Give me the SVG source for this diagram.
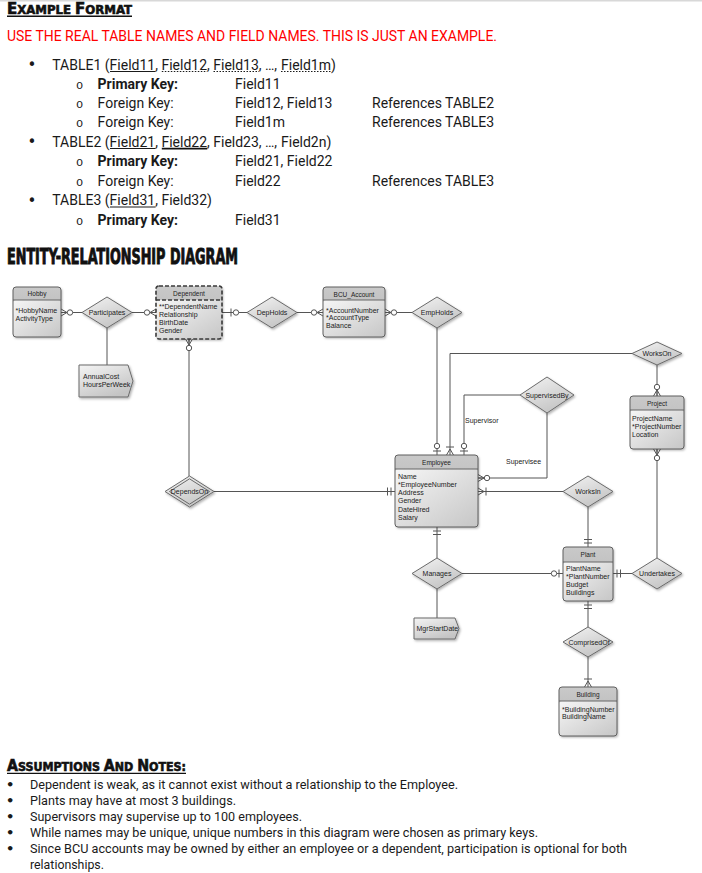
<svg xmlns="http://www.w3.org/2000/svg" width="702" height="873" viewBox="0 0 702 873">
<style>
.body{font-family:Roboto,"Liberation Sans",sans-serif;font-size:14px;fill:#1a1a1a}
.bold{font-weight:bold}
.red{fill:#ff0000}
.bul{font-family:"DejaVu Sans","Liberation Sans",sans-serif;font-size:15px;fill:#1a1a1a}
.bul2{font-family:"DejaVu Sans","Liberation Sans",sans-serif;font-size:13px;font-weight:bold;fill:#1a1a1a}
.head{font-family:"DejaVu Sans Condensed","DejaVu Sans","Liberation Sans",sans-serif;font-weight:bold;fill:#111;stroke:#111;stroke-width:0.6}
.note{font-family:Roboto,"Liberation Sans",sans-serif;font-size:13.5px;fill:#1a1a1a}
.ul{stroke:#1a1a1a;stroke-width:1}
.dul{stroke:#1a1a1a;stroke-width:1;stroke-dasharray:1.5,1.5}
.eh{fill:url(#hdrG)}
.eb{fill:url(#bodyG)}
.es{stroke:#666;stroke-width:1}
.eo{fill:none;stroke:#5f5f5f;stroke-width:1}
.ew{fill:none;stroke:#3a3a3a;stroke-width:1.6;stroke-dasharray:4,2}
.th{font-family:"Liberation Sans",Arial,sans-serif;font-size:6.5px;fill:#222;text-anchor:middle}
.ta{font-family:"Liberation Sans",Arial,sans-serif;font-size:7px;fill:#222}
.tr{font-family:"Liberation Sans",Arial,sans-serif;font-size:7px;fill:#222;text-anchor:middle}
.dm{fill:url(#dG);stroke:#6a6a6a;stroke-width:1}
.cn{fill:none;stroke:#555;stroke-width:1}
.nt{fill:none;stroke:#555;stroke-width:1}
.nc{fill:#fff;stroke:#555;stroke-width:1}
</style>
<defs>
<linearGradient id="bodyG" x1="0" y1="0" x2="1" y2="1">
<stop offset="0" stop-color="#f6f6f6"/><stop offset="1" stop-color="#c6c6c6"/>
</linearGradient>
<linearGradient id="hdrG" x1="0" y1="0" x2="0" y2="1">
<stop offset="0" stop-color="#c9c9c9"/><stop offset="1" stop-color="#b3b3b3"/>
</linearGradient>
<linearGradient id="dG" x1="0" y1="0" x2="0.6" y2="1">
<stop offset="0" stop-color="#f4f4f4"/><stop offset="1" stop-color="#c4c4c4"/>
</linearGradient>
<filter id="sh" x="-15%" y="-15%" width="140%" height="140%">
<feDropShadow dx="1.2" dy="1.5" stdDeviation="1" flood-color="#000" flood-opacity="0.3"/>
</filter>
<g id="crowO"><path class="nt" d="M0,-3.5 L6,0 M0,3.5 L6,0 M0,0 L6,0"/><circle class="nc" cx="9" cy="0" r="2.7"/></g>
<g id="crowBar"><path class="nt" d="M0,-3.5 L6,0 M0,3.5 L6,0 M8,-4 L8,4"/></g>
<g id="barO"><path class="nt" d="M4,-4 L4,4"/><circle class="nc" cx="9" cy="0" r="2.7"/></g>
<g id="barBar"><path class="nt" d="M4,-4 L4,4 M7.5,-4 L7.5,4"/></g>
</defs>

<rect x="0" y="0" width="702" height="873" fill="#fff"/>
<rect x="0" y="0" width="702" height="1.5" fill="#d8d8d8"/>

<!-- Example format heading -->
<text class="head" x="7" y="14" textLength="125" lengthAdjust="spacingAndGlyphs"><tspan font-size="16">E</tspan><tspan font-size="12.5">XAMPLE </tspan><tspan font-size="16">F</tspan><tspan font-size="12.5">ORMAT</tspan></text>
<line x1="7" y1="16.3" x2="132" y2="16.3" stroke="#111" stroke-width="1.4"/>
<text class="body red" x="7" y="40.7" textLength="490" lengthAdjust="spacingAndGlyphs">USE THE REAL TABLE NAMES AND FIELD NAMES. THIS IS JUST AN EXAMPLE.</text>

<g class="body">
<text class="bul" x="27.5" y="70">•</text>
<text x="52.3" y="69.5">TABLE1 (Field11, Field12, Field13, <tspan x="265">…, </tspan><tspan x="281">Field1m)</tspan></text>
<text class="bul" x="27.5" y="147">•</text>
<text x="52.3" y="146.5">TABLE2 (Field21, Field22, Field23, <tspan x="265">…, </tspan><tspan x="281">Field2n)</tspan></text>
<text class="bul" x="27.5" y="205.5">•</text>
<text x="52.3" y="205">TABLE3 (Field31, Field32)</text>

<text x="76" y="88.5" font-family="'Liberation Mono',monospace" font-size="12">o</text>
<text x="76" y="107.5" font-family="'Liberation Mono',monospace" font-size="12">o</text>
<text x="76" y="126.8" font-family="'Liberation Mono',monospace" font-size="12">o</text>
<text x="76" y="166" font-family="'Liberation Mono',monospace" font-size="12">o</text>
<text x="76" y="185.5" font-family="'Liberation Mono',monospace" font-size="12">o</text>
<text x="76" y="224.5" font-family="'Liberation Mono',monospace" font-size="12">o</text>

<text class="bold" x="97.6" y="88.5">Primary Key:</text>
<text x="97.6" y="107.5">Foreign Key:</text>
<text x="97.6" y="126.8">Foreign Key:</text>
<text class="bold" x="97.6" y="166">Primary Key:</text>
<text x="97.6" y="185.5">Foreign Key:</text>
<text class="bold" x="97.6" y="224.5">Primary Key:</text>

<text x="235" y="88.5">Field11</text>
<text x="235" y="107.5">Field12, Field13</text>
<text x="235" y="126.8">Field1m</text>
<text x="235" y="166">Field21, Field22</text>
<text x="235" y="185.5">Field22</text>
<text x="235" y="224.5">Field31</text>

<text x="372" y="107.5">References TABLE2</text>
<text x="372" y="126.8">References TABLE3</text>
<text x="372" y="185.5">References TABLE3</text>
</g>
<line class="ul" x1="110" y1="71.5" x2="155.6" y2="71.5"/>
<line class="dul" x1="161.8" y1="71.5" x2="207.3" y2="71.5"/>
<line class="dul" x1="213.5" y1="71.5" x2="259" y2="71.5"/>
<line class="dul" x1="281" y1="71.5" x2="331" y2="71.5"/>
<line class="ul" x1="110" y1="148.5" x2="155.6" y2="148.5"/>
<line x1="161.8" y1="148.7" x2="207.3" y2="148.7" stroke="#111" stroke-width="1.7"/>
<line class="ul" x1="110" y1="207" x2="155.6" y2="207"/>

<!-- ER heading -->
<text class="head" x="7" y="264" font-size="20.5" textLength="231" lengthAdjust="spacingAndGlyphs" style="stroke-width:0.9">ENTITY-RELATIONSHIP DIAGRAM</text>

<!-- Connectors -->
<g id="connectors">
<path class="cn" d="M61,312.5 H82"/>
<path class="cn" d="M132,312.5 H156"/>
<path class="cn" d="M107,328 V365"/>
<path class="cn" d="M222,312.5 H247"/>
<path class="cn" d="M297,312.5 H323"/>
<path class="cn" d="M385,312.5 H412"/>
<path class="cn" d="M437,328 V455"/>
<path class="cn" d="M632,353.5 H450 V455"/>
<path class="cn" d="M520,395 H464 V455"/>
<path class="cn" d="M547,413 V478 H478"/>
<path class="cn" d="M657,365 V396"/>
<path class="cn" d="M657,449 V558"/>
<path class="cn" d="M189,339 V476"/>
<path class="cn" d="M214,491.5 H395"/>
<path class="cn" d="M478,491.5 H563"/>
<path class="cn" d="M588,507 V547"/>
<path class="cn" d="M437,527 V558"/>
<path class="cn" d="M462,573.5 H563"/>
<path class="cn" d="M437,589 V618"/>
<path class="cn" d="M613,573.5 H632"/>
<path class="cn" d="M588,601 V627"/>
<path class="cn" d="M588,657 V687"/>

<use href="#crowO" transform="translate(61,312.5)"/>
<use href="#crowO" transform="translate(156,312.5) rotate(180)"/>
<use href="#barO" transform="translate(227,312.5)"/>
<use href="#crowO" transform="translate(189,339) rotate(90)"/>
<use href="#crowO" transform="translate(323,312.5) rotate(180)"/>
<use href="#crowO" transform="translate(385,312.5)"/>
<use href="#barO" transform="translate(437,455) rotate(-90)"/>
<use href="#crowBar" transform="translate(450,455) rotate(-90)"/>
<use href="#barO" transform="translate(464,455) rotate(-90)"/>
<use href="#crowO" transform="translate(478,478)"/>
<use href="#crowBar" transform="translate(478,491.5)"/>
<use href="#barBar" transform="translate(395,491.5) rotate(180)"/>
<use href="#barBar" transform="translate(437,527) rotate(90)"/>
<use href="#crowO" transform="translate(657,396) rotate(-90)"/>
<use href="#crowO" transform="translate(657,449) rotate(90)"/>
<use href="#barBar" transform="translate(588,547) rotate(-90)"/>
<use href="#barO" transform="translate(563,573.5) rotate(180)"/>
<use href="#barBar" transform="translate(613,573.5)"/>
<use href="#barBar" transform="translate(588,601) rotate(90)"/>
<use href="#crowBar" transform="translate(588,687) rotate(-90)"/>

<text class="ta" x="465" y="423" font-size="6.6px">Supervisor</text>
<text class="ta" x="506" y="463.5" font-size="6.8px">Supervisee</text>
</g>

<!-- Entities -->
<g id="hobby">
<rect class="eh" x="13" y="287" width="48" height="50" rx="3" filter="url(#sh)"/>
<rect class="eb" x="13" y="300" width="48" height="37" rx="3"/>
<line class="es" x1="13" y1="300" x2="61" y2="300"/>
<rect class="eo" x="13" y="287" width="48" height="50" rx="3"/>
<text class="th" x="37" y="296">Hobby</text>
<text class="ta" x="15.5" y="313">*HobbyName</text>
<text class="ta" x="15.5" y="320.5">ActivityType</text>
</g>

<g id="dependent">
<rect class="eh" x="156" y="286" width="66" height="53" rx="3" filter="url(#sh)"/>
<rect class="eb" x="156" y="300" width="66" height="39" rx="3"/>
<line x1="156" y1="300" x2="222" y2="300" stroke="#3a3a3a" stroke-width="1.6" stroke-dasharray="4,2"/>
<rect class="ew" x="156" y="286" width="66" height="53" rx="3"/>
<text class="th" x="189" y="296">Dependent</text>
<text class="ta" x="159" y="308.5">**DependentName</text>
<text class="ta" x="159" y="316.8">Relationship</text>
<text class="ta" x="159" y="325">BirthDate</text>
<text class="ta" x="159" y="333.3">Gender</text>
</g>

<g id="bcu_account">
<rect class="eh" x="323" y="287" width="62" height="50" rx="3" filter="url(#sh)"/>
<rect class="eb" x="323" y="300" width="62" height="37" rx="3"/>
<line class="es" x1="323" y1="300" x2="385" y2="300"/>
<rect class="eo" x="323" y="287" width="62" height="50" rx="3"/>
<text class="th" x="354" y="296.5">BCU_Account</text>
<text class="ta" x="326" y="312.5">*AccountNumber</text>
<text class="ta" x="326" y="320">*AccountType</text>
<text class="ta" x="326" y="328">Balance</text>
</g>

<g id="project">
<rect class="eh" x="630" y="396" width="54" height="53" rx="3" filter="url(#sh)"/>
<rect class="eb" x="630" y="410" width="54" height="39" rx="3"/>
<line class="es" x1="630" y1="410" x2="684" y2="410"/>
<rect class="eo" x="630" y="396" width="54" height="53" rx="3"/>
<text class="th" x="657" y="405.5">Project</text>
<text class="ta" x="632" y="420.5">ProjectName</text>
<text class="ta" x="632" y="428.5">*ProjectNumber</text>
<text class="ta" x="632" y="436.5">Location</text>
</g>

<g id="employee">
<rect class="eh" x="395" y="455" width="83" height="72" rx="3" filter="url(#sh)"/>
<rect class="eb" x="395" y="469" width="83" height="58" rx="3"/>
<line class="es" x1="395" y1="469" x2="478" y2="469"/>
<rect class="eo" x="395" y="455" width="83" height="72" rx="3"/>
<text class="th" x="436.5" y="464.5">Employee</text>
<text class="ta" x="398" y="479">Name</text>
<text class="ta" x="398" y="487">*EmployeeNumber</text>
<text class="ta" x="398" y="495">Address</text>
<text class="ta" x="398" y="503.3">Gender</text>
<text class="ta" x="398" y="511.5">DateHired</text>
<text class="ta" x="398" y="519.5">Salary</text>
</g>

<g id="plant">
<rect class="eh" x="563" y="547" width="50" height="54" rx="3" filter="url(#sh)"/>
<rect class="eb" x="563" y="562" width="50" height="39" rx="3"/>
<line class="es" x1="563" y1="562" x2="613" y2="562"/>
<rect class="eo" x="563" y="547" width="50" height="54" rx="3"/>
<text class="th" x="588" y="557">Plant</text>
<text class="ta" x="566" y="570.8">PlantName</text>
<text class="ta" x="566" y="578.5">*PlantNumber</text>
<text class="ta" x="566" y="586.8">Budget</text>
<text class="ta" x="566" y="595">Buildings</text>
</g>

<g id="building">
<rect class="eh" x="559" y="687" width="58" height="49" rx="3" filter="url(#sh)"/>
<rect class="eb" x="559" y="701" width="58" height="35" rx="3"/>
<line class="es" x1="559" y1="701" x2="617" y2="701"/>
<rect class="eo" x="559" y="687" width="58" height="49" rx="3"/>
<text class="th" x="588" y="696.5">Building</text>
<text class="ta" x="562" y="711.5">*BuildingNumber</text>
<text class="ta" x="562" y="719">BuildingName</text>
</g>

<!-- Relationships -->
<g id="participates">
<polygon class="dm" points="82,312.5 107,297 132,312.5 107,328" filter="url(#sh)"/>
<text class="tr" x="107" y="315">Participates</text>
</g>
<g id="depholds">
<polygon class="dm" points="247,312.5 272,297 297,312.5 272,328" filter="url(#sh)"/>
<text class="tr" x="272" y="315">DepHolds</text>
</g>
<g id="empholds">
<polygon class="dm" points="412,312.5 437,297 462,312.5 437,328" filter="url(#sh)"/>
<text class="tr" x="437" y="315">EmpHolds</text>
</g>
<g id="workson">
<polygon class="dm" points="632,353.5 657,342 682,353.5 657,365" filter="url(#sh)"/>
<text class="tr" x="657" y="356">WorksOn</text>
</g>
<g id="supervisedby">
<polygon class="dm" points="520,395 547,377 574,395 547,413" filter="url(#sh)"/>
<text class="tr" x="547" y="397.5">SupervisedBy</text>
</g>
<g id="dependson">
<polygon class="dm" points="165,491.5 189.5,476 214,491.5 189.5,507" filter="url(#sh)"/>
<polygon fill="none" stroke="#6a6a6a" stroke-width="1" points="169.5,491.5 189.5,478.8 209.5,491.5 189.5,504.2"/>
<text class="tr" x="189.5" y="493.5" font-size="6px">DependsOn</text>
</g>
<g id="worksin">
<polygon class="dm" points="563,491.5 588,476 613,491.5 588,507" filter="url(#sh)"/>
<text class="tr" x="588" y="494">WorksIn</text>
</g>
<g id="manages">
<polygon class="dm" points="412,573.5 437,558 462,573.5 437,589" filter="url(#sh)"/>
<text class="tr" x="437" y="576">Manages</text>
</g>
<g id="undertakes">
<polygon class="dm" points="632,573.5 657,558 682,573.5 657,589" filter="url(#sh)"/>
<text class="tr" x="657" y="576">Undertakes</text>
</g>
<g id="comprisedof">
<polygon class="dm" points="563,642 588,627 613,642 588,657" filter="url(#sh)"/>
<text class="tr" x="589" y="644.5">ComprisedOf</text>
</g>

<!-- Attributes -->
<g id="attr_participates">
<path class="dm" d="M79,365 H128 L133,381 L128,397 H79 Z" filter="url(#sh)"/>
<text class="ta" x="83" y="379">AnnualCost</text>
<text class="ta" x="83" y="387">HoursPerWeek</text>
</g>
<g id="attr_manages">
<path class="dm" d="M414,618 H455 L459,628.5 L455,639 H414 Z" filter="url(#sh)"/>
<text class="ta" x="416.5" y="631" font-size="6.6px">MgrStartDate</text>
</g>

<!-- Notes -->
<text class="head" x="7" y="770.5" textLength="179" lengthAdjust="spacingAndGlyphs"><tspan font-size="16">A</tspan><tspan font-size="12.5">SSUMPTIONS </tspan><tspan font-size="16">A</tspan><tspan font-size="12.5">ND </tspan><tspan font-size="16">N</tspan><tspan font-size="12.5">OTES:</tspan></text>
<line x1="7" y1="773.3" x2="186" y2="773.3" stroke="#111" stroke-width="1.3"/>
<g class="note">
<text class="bul2" x="6" y="789">•</text>
<text class="bul2" x="6" y="805">•</text>
<text class="bul2" x="6" y="821">•</text>
<text class="bul2" x="6" y="837">•</text>
<text class="bul2" x="6" y="853">•</text>
<text x="30" y="789" textLength="428" lengthAdjust="spacingAndGlyphs">Dependent is weak, as it cannot exist without a relationship to the Employee.</text>
<text x="30" y="805" textLength="206" lengthAdjust="spacingAndGlyphs">Plants may have at most 3 buildings.</text>
<text x="30" y="821" textLength="272" lengthAdjust="spacingAndGlyphs">Supervisors may supervise up to 100 employees.</text>
<text x="30" y="837" textLength="508" lengthAdjust="spacingAndGlyphs">While names may be unique, unique numbers in this diagram were chosen as primary keys.</text>
<text x="30" y="853" textLength="597" lengthAdjust="spacingAndGlyphs">Since BCU accounts may be owned by either an employee or a dependent, participation is optional for both</text>
<text x="30" y="869" textLength="74" lengthAdjust="spacingAndGlyphs">relationships.</text>
</g>
</svg>
